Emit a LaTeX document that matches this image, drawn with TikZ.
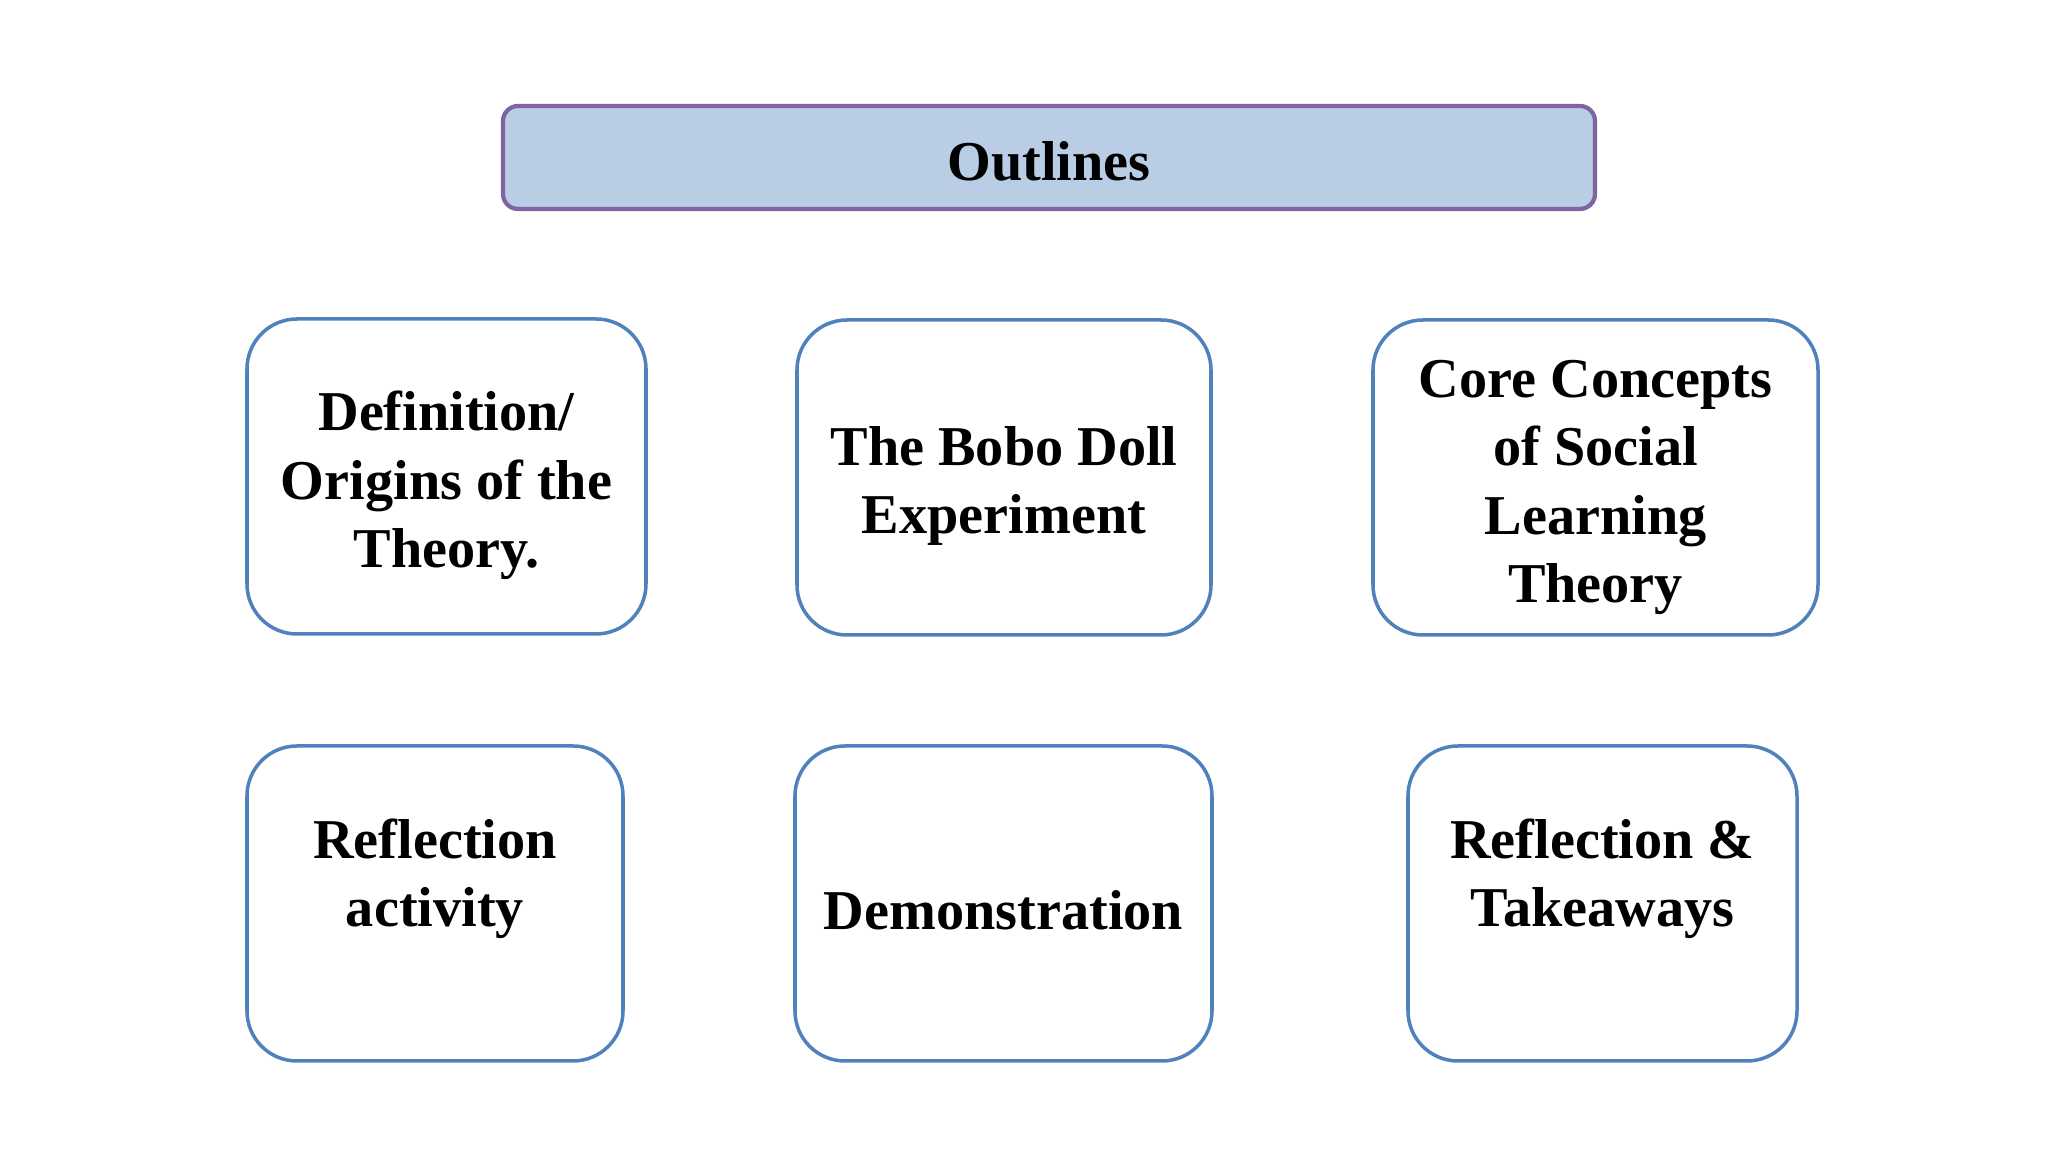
\documentclass[tikz,border=0pt]{standalone}
\usepackage{fontspec}
\setmainfont{Liberation Serif}
\usetikzlibrary{positioning}
\definecolor{boxblue}{RGB}{79,129,189}
\definecolor{headfill}{RGB}{185,205,229}
\definecolor{headline}{RGB}{128,100,162}

\begin{document}
\begin{tikzpicture}[
        topic/.style = {draw = boxblue, line width = 1pt, rounded corners = 0.5cm, inner sep = 0pt, minimum height = 3.15cm},
        head/.style = {draw = headline, fill = headfill, line width = 1.2pt, rounded corners = 0.15cm, minimum width = 10.92cm, minimum height = 1.03cm, inner sep = 0pt},
        txt/.style = {align = center, font = \fontsize{16}{19.5}\selectfont\bfseries, inner sep = 0pt}
    ]
    \useasboundingbox (0,0) rectangle (20.48,11.52);
    % heading bar
    \node[head] (head) at (10.49,9.945) {};
    \node[txt] (outl) at ([yshift = -0.04cm]head.center) {Outlines};
    % first row
    \node[topic, minimum width = 3.99cm] (b1) at (4.465,6.755) {};
    \node[topic, minimum width = 4.14cm] (b2) at (10.04,6.745) {};
    \node[topic, minimum width = 4.45cm] (b3) at (15.955,6.745) {};
    \node[txt] (t1) at ([yshift = -0.09cm]b1.center) {Definition/\\Origins of the\\Theory.};
    \node[txt] (t2) at ([yshift = -0.085cm]b2.center) {The Bobo Doll\\Experiment};
    \node[txt] (t3) at ([yshift = -0.1cm]b3.center) {Core Concepts\\of Social\\Learning\\Theory};
    % second row
    \begin{scope}[minimum height = 3.17cm]
        \node[topic, minimum width = 3.76cm] (b4) at (4.35,2.485) {};
        \node[topic, minimum width = 4.17cm] (b5) at (10.035,2.485) {};
        \node[topic, minimum width = 3.89cm] (b6) at (16.025,2.485) {};
    \end{scope}
    \node[txt] (t4) at ([yshift = 0.245cm]b4.center) {Reflection\\activity};
    \node[txt] (t5) at ([yshift = -0.065cm]b5.center) {Demonstration};
    \node[txt] (t6) at ([yshift = 0.245cm]b6.center) {Reflection \&\\Takeaways};
\end{tikzpicture}
\end{document}
